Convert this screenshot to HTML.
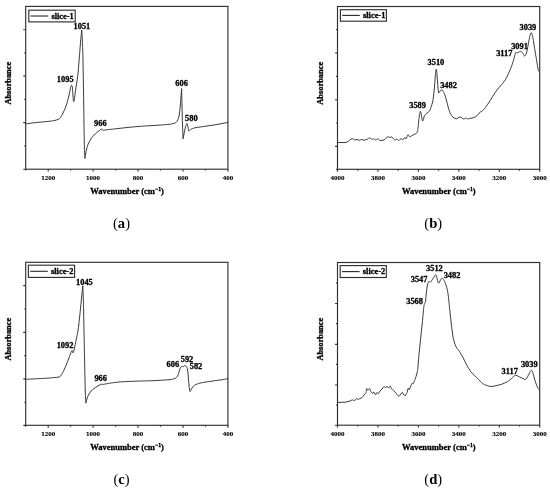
<!DOCTYPE html>
<html lang="en"><head><meta charset="utf-8"><title>FTIR absorbance spectra</title>
<style>html,body{margin:0;padding:0;background:#fff}body{width:550px;height:492px;overflow:hidden;font-family:"Liberation Serif",serif}</style>
</head><body>
<svg width="550" height="492" viewBox="0 0 550 492" style="display:block">
<rect width="550" height="492" fill="#fff"/>
<g id="plot-a" font-family="Liberation Serif, Times New Roman, serif" font-weight="bold" fill="#000" stroke="#000" stroke-width="0.3">
<rect x="25.7" y="6.4" width="202.2" height="162.8" fill="none" stroke="#303030" stroke-width="1.15"/>
<path d="M23.3,29.7H25.7M23.3,76.1H25.7M23.3,122.6H25.7M23.3,169.2H25.7M24.3,52.9H25.7M24.3,99.4H25.7M24.3,145.9H25.7M48.2,169.2V171.6M93.1,169.2V171.6M138.0,169.2V171.6M183.0,169.2V171.6M227.9,169.2V171.6M25.7,169.2V170.6M70.6,169.2V170.6M115.6,169.2V170.6M160.5,169.2V170.6M205.4,169.2V170.6" fill="none" stroke="#303030" stroke-width="1.15"/>
<g font-size="7" text-anchor="middle" stroke-width="0.12">
<text x="48.2" y="179.6">1200</text>
<text x="93.1" y="179.6">1000</text>
<text x="138.0" y="179.6">800</text>
<text x="183.0" y="179.6">600</text>
<text x="227.9" y="179.6">400</text>
</g>
<text x="127.0" y="194.2" font-size="8.5" text-anchor="middle">Wavenumber (cm<tspan font-size="5.6" dy="-3">−1</tspan><tspan dy="3">)</tspan></text>
<text transform="translate(11.3,83.2) rotate(-90)" font-size="8.4" text-anchor="middle">Absorbance</text>
<rect x="28.8" y="10.2" width="46.4" height="11.7" fill="#fff" stroke="#303030" stroke-width="1.15"/>
<path d="M30.6,16.0H48.2" stroke="#303030" stroke-width="1.15" fill="none"/>
<text x="51.4" y="18.6" font-size="8.4">slice-1</text>
<path d="M25.7,123.8C27.7,123.6 33.9,122.8 37.6,122.4C41.3,122.0 45.3,121.7 48.0,121.4C50.7,121.1 52.3,120.9 54.0,120.6C55.7,120.3 56.9,119.9 58.0,119.4C59.1,118.9 59.7,118.7 60.5,117.6C61.3,116.5 62.1,114.8 63.0,113.0C63.9,111.2 64.9,109.1 65.7,107.0C66.5,104.9 67.1,102.7 67.7,100.5C68.3,98.3 68.8,96.2 69.3,94.0C69.8,91.8 70.2,89.0 70.6,87.5C71.0,86.0 71.3,85.2 71.6,85.3C71.9,85.4 72.2,86.2 72.4,88.0C72.6,89.8 72.8,93.7 73.0,96.0C73.2,98.3 73.4,101.1 73.6,101.6C73.8,102.1 74.1,100.9 74.4,99.0C74.7,97.1 75.0,94.0 75.6,90.0C76.2,86.0 77.2,80.5 77.8,75.3C78.4,70.1 78.8,64.0 79.2,59.0C79.6,54.0 80.0,49.0 80.3,45.0C80.6,41.0 81.0,37.4 81.2,35.0C81.4,32.6 81.6,31.2 81.7,30.4M81.7,30.4C81.8,32.0 82.1,35.1 82.3,40.0C82.5,44.9 82.8,48.3 83.0,60.0C83.2,71.7 83.6,95.3 83.8,110.0C84.0,124.7 84.2,140.0 84.4,148.0C84.6,156.0 84.8,156.5 84.9,158.2M84.9,158.2C85.0,157.5 85.3,155.5 85.6,154.0C85.9,152.5 86.2,150.7 86.6,149.0C87.0,147.3 87.6,145.5 88.2,144.0C88.8,142.5 89.6,141.2 90.3,140.0C91.0,138.8 91.8,137.6 92.6,136.6C93.4,135.6 94.4,134.7 95.3,133.9C96.2,133.1 97.2,132.2 98.0,131.6C98.8,131.0 99.5,130.6 100.0,130.2C100.5,129.8 100.6,129.2 100.9,129.0C101.2,128.8 101.3,128.7 101.6,128.9C101.8,129.1 102.1,129.8 102.4,130.0C102.7,130.2 102.8,130.3 103.4,130.3C104.0,130.3 104.8,130.1 106.0,129.9C107.2,129.8 108.1,129.7 110.4,129.4C112.7,129.1 115.4,128.8 120.0,128.3C124.6,127.8 133.0,126.9 138.0,126.5C143.0,126.1 146.3,125.9 150.0,125.7C153.7,125.5 156.7,125.3 160.0,125.1C163.3,124.8 167.5,124.5 170.0,124.2C172.5,123.9 173.8,123.5 175.0,123.0C176.2,122.5 176.4,122.0 177.0,121.2C177.6,120.4 178.0,119.6 178.4,118.4C178.8,117.2 179.1,115.9 179.4,114.0C179.7,112.1 179.9,109.7 180.2,107.0C180.4,104.3 180.7,101.0 180.9,98.0C181.1,95.0 181.5,90.5 181.6,89.0M181.6,89.0C181.7,91.7 181.8,99.0 182.0,105.0C182.2,111.0 182.3,119.4 182.5,125.0C182.7,130.6 183.0,136.2 183.1,138.4M183.1,138.4C183.2,137.8 183.5,136.6 183.8,135.0C184.1,133.4 184.6,130.6 185.0,129.0C185.4,127.4 185.7,126.1 186.0,125.2C186.3,124.3 186.7,123.3 187.0,123.4C187.3,123.5 187.5,124.8 187.8,126.0C188.1,127.2 188.4,130.0 188.7,130.8C189.0,131.6 189.2,130.8 189.6,130.6C189.9,130.4 190.3,129.8 190.8,129.4C191.3,129.1 191.6,128.8 192.5,128.5C193.4,128.2 194.8,127.8 196.0,127.6C197.2,127.3 198.2,127.3 200.0,127.0C201.8,126.7 204.7,126.3 207.0,126.0C209.3,125.7 211.7,125.4 214.0,125.0C216.3,124.6 218.7,124.1 221.0,123.7C223.3,123.3 226.8,122.6 227.9,122.4" fill="none" stroke="#303030" stroke-width="0.95" stroke-linejoin="round" stroke-linecap="round"/>
<g font-size="8.4" text-anchor="middle">
<text x="81.9" y="29.0">1051</text>
<text x="65.2" y="82.3">1095</text>
<text x="100.3" y="125.6">966</text>
<text x="181.6" y="86.0">606</text>
<text x="191.3" y="121.0">580</text>
</g>
<text x="121.5" y="227.8" font-size="14.6" text-anchor="middle" font-weight="normal" stroke="none">(<tspan font-weight="bold">a</tspan>)</text>
</g>
<g id="plot-c" font-family="Liberation Serif, Times New Roman, serif" font-weight="bold" fill="#000" stroke="#000" stroke-width="0.3">
<rect x="25.7" y="262.3" width="202.2" height="163.0" fill="none" stroke="#303030" stroke-width="1.15"/>
<path d="M23.3,285.6H25.7M23.3,332.3H25.7M23.3,378.9H25.7M23.3,425.3H25.7M24.3,309H25.7M24.3,355.6H25.7M24.3,402.2H25.7M48.2,425.3V427.7M93.1,425.3V427.7M138.0,425.3V427.7M183.0,425.3V427.7M227.9,425.3V427.7M25.7,425.3V426.7M70.6,425.3V426.7M115.6,425.3V426.7M160.5,425.3V426.7M205.4,425.3V426.7" fill="none" stroke="#303030" stroke-width="1.15"/>
<g font-size="7" text-anchor="middle" stroke-width="0.12">
<text x="48.2" y="435.7">1200</text>
<text x="93.1" y="435.7">1000</text>
<text x="138.0" y="435.7">800</text>
<text x="183.0" y="435.7">600</text>
<text x="227.9" y="435.7">400</text>
</g>
<text x="127.0" y="450.3" font-size="8.5" text-anchor="middle">Wavenumber (cm<tspan font-size="5.6" dy="-3">−1</tspan><tspan dy="3">)</tspan></text>
<text transform="translate(11.3,339.2) rotate(-90)" font-size="8.4" text-anchor="middle">Absorbance</text>
<rect x="28.4" y="265.2" width="46.2" height="12.2" fill="#fff" stroke="#303030" stroke-width="1.15"/>
<path d="M30.2,271.3H47.8" stroke="#303030" stroke-width="1.15" fill="none"/>
<text x="51.0" y="273.9" font-size="8.4">slice-2</text>
<path d="M25.7,379.3C27.7,379.2 33.9,378.9 37.6,378.7C41.3,378.5 45.3,378.3 48.0,378.1C50.7,377.9 52.3,377.8 54.0,377.6C55.7,377.5 57.1,377.3 58.0,377.2C58.9,377.1 59.2,377.0 59.6,376.8C60.0,376.6 60.3,376.4 60.6,376.0C60.9,375.6 61.2,375.1 61.6,374.5C62.0,373.9 62.4,373.1 62.8,372.4C63.2,371.6 63.5,371.2 64.0,370.0C64.5,368.8 65.4,366.9 66.0,365.4C66.6,363.9 67.1,362.7 67.7,361.2C68.3,359.7 69.0,357.9 69.5,356.4C70.0,354.9 70.6,353.4 71.0,352.4C71.4,351.4 71.7,350.8 71.9,350.6C72.2,350.4 72.3,351.0 72.5,351.4C72.7,351.8 72.8,352.8 73.0,352.9C73.2,353.0 73.4,352.4 73.6,351.8C73.8,351.2 74.0,350.2 74.3,349.0C74.6,347.8 74.8,346.4 75.2,344.6C75.6,342.8 76.1,340.1 76.5,338.0C76.9,335.9 77.4,334.6 77.8,332.0C78.2,329.4 78.6,325.8 79.0,322.7C79.4,319.6 79.7,316.5 80.0,313.5C80.3,310.5 80.6,307.6 80.9,304.5C81.2,301.4 81.5,298.1 81.8,295.0C82.1,291.9 82.6,287.7 82.8,286.2M82.8,286.2C82.9,288.2 83.1,292.4 83.3,298.0C83.5,303.6 83.6,309.7 83.8,320.0C84.0,330.3 84.3,348.0 84.6,360.0C84.8,372.0 85.1,384.9 85.3,392.0C85.5,399.1 85.8,401.0 85.9,402.8M85.9,402.8C86.0,402.3 86.3,401.1 86.6,400.0C86.9,398.9 87.4,397.4 87.8,396.4C88.2,395.4 88.6,394.7 89.0,394.0C89.4,393.3 89.7,392.8 90.3,392.1C90.9,391.4 91.8,390.4 92.6,389.6C93.4,388.9 94.4,388.2 95.3,387.6C96.2,387.0 97.2,386.3 98.0,385.8C98.8,385.3 99.6,384.9 100.3,384.6C101.0,384.3 101.5,384.2 102.0,384.2C102.5,384.2 102.8,384.4 103.5,384.4C104.2,384.3 104.8,384.1 106.0,383.9C107.2,383.7 108.0,383.4 110.4,383.1C112.8,382.8 115.8,382.2 120.4,381.9C125.0,381.6 133.1,381.3 138.0,381.1C142.9,380.9 146.3,380.9 150.0,380.8C153.7,380.7 156.7,380.5 160.0,380.3C163.3,380.1 167.7,379.9 170.0,379.6C172.3,379.4 173.0,379.1 174.0,378.8C175.0,378.5 175.4,378.2 176.0,377.8C176.6,377.4 177.2,376.9 177.6,376.2C178.0,375.5 178.3,374.5 178.6,373.5C178.9,372.5 179.3,371.0 179.6,370.0C179.9,369.0 180.3,368.0 180.6,367.4C180.9,366.8 181.3,366.5 181.6,366.4C181.9,366.2 182.3,366.4 182.6,366.5C182.9,366.6 183.1,366.8 183.4,366.7C183.7,366.6 184.2,365.8 184.6,365.7C185.0,365.6 185.3,365.7 185.6,365.9C185.9,366.1 186.2,366.4 186.5,366.8C186.8,367.2 187.1,367.7 187.3,368.6C187.5,369.5 187.7,370.4 187.9,372.0C188.1,373.6 188.2,375.8 188.4,378.0C188.6,380.2 188.8,383.0 189.0,385.0C189.2,387.0 189.4,388.9 189.6,390.0C189.8,391.1 189.9,391.6 190.1,391.7C190.3,391.8 190.5,391.0 190.8,390.4C191.1,389.8 191.6,388.7 192.0,388.0C192.4,387.3 193.0,386.7 193.5,386.2C194.0,385.7 194.3,385.4 195.0,385.0C195.7,384.6 196.7,384.2 197.5,383.9C198.3,383.6 198.8,383.4 200.0,383.1C201.2,382.8 203.3,382.5 205.0,382.2C206.7,381.9 207.5,381.8 210.0,381.4C212.5,381.0 217.0,380.4 220.0,380.0C223.0,379.6 226.6,378.9 227.9,378.7" fill="none" stroke="#303030" stroke-width="0.95" stroke-linejoin="round" stroke-linecap="round"/>
<g font-size="8.4" text-anchor="middle">
<text x="84.4" y="284.6">1045</text>
<text x="65.0" y="347.8">1092</text>
<text x="100.7" y="381.3">966</text>
<text x="172.8" y="367.4">606</text>
<text x="187.0" y="361.6">592</text>
<text x="196.0" y="369.0">582</text>
</g>
<text x="121.5" y="484.2" font-size="14.6" text-anchor="middle" font-weight="normal" stroke="none">(<tspan font-weight="bold">c</tspan>)</text>
</g>
<g id="plot-b" font-family="Liberation Serif, Times New Roman, serif" font-weight="bold" fill="#000" stroke="#000" stroke-width="0.3">
<rect x="337.5" y="6.5" width="202.2" height="162.8" fill="none" stroke="#303030" stroke-width="1.15"/>
<path d="M335.1,53.0H337.5M335.1,99.7H337.5M335.1,146.4H337.5M336.1,29.6H337.5M336.1,76.4H337.5M336.1,123.0H337.5M336.1,169.3H337.5M337.5,169.3V171.7M377.9,169.3V171.7M418.4,169.3V171.7M458.8,169.3V171.7M499.3,169.3V171.7M539.7,169.3V171.7M357.7,169.3V170.7M398.2,169.3V170.7M438.6,169.3V170.7M479.0,169.3V170.7M519.5,169.3V170.7" fill="none" stroke="#303030" stroke-width="1.15"/>
<g font-size="7" text-anchor="middle" stroke-width="0.12">
<text x="337.5" y="179.7">4000</text>
<text x="377.9" y="179.7">3800</text>
<text x="418.4" y="179.7">3600</text>
<text x="458.8" y="179.7">3400</text>
<text x="499.3" y="179.7">3200</text>
<text x="539.7" y="179.7">3000</text>
</g>
<text x="438.8" y="194.3" font-size="8.5" text-anchor="middle">Wavenumber (cm<tspan font-size="5.6" dy="-3">−1</tspan><tspan dy="3">)</tspan></text>
<text transform="translate(323.1,83.3) rotate(-90)" font-size="8.4" text-anchor="middle">Absorbance</text>
<rect x="340.4" y="9.7" width="46.0" height="11.5" fill="#fff" stroke="#303030" stroke-width="1.15"/>
<path d="M342.2,15.4H359.8" stroke="#303030" stroke-width="1.15" fill="none"/>
<text x="363.0" y="18.1" font-size="8.4">slice-1</text>
<path d="M337.5,142.4C338.1,142.4 339.8,142.5 341.0,142.5C342.2,142.5 344.0,142.7 345.0,142.6C346.0,142.5 346.2,142.4 347.0,142.0C347.8,141.6 348.7,140.9 349.5,140.3C350.3,139.8 351.3,138.9 352.0,138.7C352.7,138.5 353.0,139.0 353.5,139.2C354.0,139.4 354.4,140.1 355.0,140.1C355.6,140.1 356.3,139.3 357.0,139.4C357.7,139.5 358.4,140.3 359.0,140.4C359.6,140.5 360.0,139.9 360.5,139.8C361.0,139.7 361.4,139.5 362.0,139.6C362.6,139.7 363.4,140.3 364.0,140.3C364.6,140.3 365.0,140.0 365.5,139.8C366.0,139.7 366.5,139.6 367.0,139.4C367.5,139.2 368.1,138.7 368.6,138.4C369.1,138.1 369.6,137.6 370.0,137.7C370.4,137.8 370.7,138.5 371.0,138.8C371.3,139.1 371.7,139.6 372.0,139.6C372.3,139.6 372.7,139.2 373.0,139.0C373.3,138.8 373.7,138.5 374.0,138.6C374.3,138.7 374.7,139.2 375.0,139.5C375.3,139.8 375.7,140.2 376.0,140.2C376.3,140.1 376.7,139.5 377.0,139.2C377.3,138.9 377.7,138.5 378.0,138.6C378.3,138.7 378.7,139.5 379.0,139.8C379.3,140.1 379.5,140.5 380.0,140.6C380.5,140.7 381.3,140.4 382.0,140.3C382.7,140.2 383.3,140.3 384.0,140.0C384.7,139.7 385.3,138.8 386.0,138.2C386.7,137.6 387.5,136.8 388.0,136.7C388.5,136.5 388.7,137.2 389.0,137.3C389.3,137.4 389.7,137.5 390.0,137.4C390.3,137.3 390.7,137.1 391.0,137.0C391.3,136.9 391.6,136.8 392.0,137.1C392.4,137.4 393.0,138.3 393.5,138.8C394.0,139.3 394.6,139.9 395.0,140.0C395.4,140.1 395.7,139.5 396.0,139.3C396.3,139.1 396.6,138.8 397.0,139.0C397.4,139.2 398.1,140.5 398.6,140.6C399.1,140.7 399.6,139.7 400.0,139.4C400.4,139.1 400.7,138.6 401.0,138.6C401.3,138.6 401.7,139.0 402.0,139.2C402.3,139.4 402.7,139.7 403.0,139.6C403.3,139.5 403.7,138.8 404.0,138.4C404.3,138.0 404.7,137.3 405.0,137.4C405.3,137.5 405.7,139.1 406.0,139.0C406.3,138.9 406.7,137.5 407.0,136.8C407.3,136.1 407.7,134.7 408.0,134.6C408.3,134.5 408.7,135.6 409.0,136.0C409.3,136.4 409.7,137.0 410.0,137.0C410.3,137.0 410.7,136.4 411.0,136.2C411.3,136.0 411.5,135.9 412.0,135.6C412.5,135.3 413.3,134.9 414.0,134.6C414.7,134.3 415.5,133.9 416.0,133.6C416.5,133.3 416.7,133.3 417.0,132.6C417.3,131.9 417.6,131.1 417.8,129.5C418.1,127.9 418.2,125.2 418.5,123.0C418.8,120.8 419.1,117.8 419.3,116.0C419.6,114.2 419.8,113.0 420.0,112.2C420.2,111.4 420.3,111.3 420.5,111.4C420.7,111.5 420.8,112.0 421.0,112.8C421.2,113.6 421.4,115.1 421.6,116.3C421.8,117.5 422.0,119.0 422.2,119.8C422.4,120.6 422.5,121.0 422.7,121.0C422.9,121.0 423.1,120.3 423.3,119.6C423.5,118.9 423.8,117.7 424.0,117.0C424.2,116.3 424.5,115.6 424.8,115.2C425.1,114.8 425.3,114.7 425.6,114.4C425.9,114.1 426.4,113.7 426.8,113.4C427.2,113.1 427.6,112.9 428.0,112.6C428.4,112.3 428.7,111.9 429.0,111.5C429.3,111.1 429.6,110.8 430.0,110.0C430.4,109.2 430.8,108.1 431.2,106.8C431.6,105.5 432.2,103.6 432.6,102.0C433.0,100.4 433.1,99.0 433.4,97.0C433.7,95.0 433.9,92.8 434.2,90.0C434.5,87.2 434.8,82.8 435.0,80.0C435.2,77.2 435.4,75.3 435.6,73.5C435.8,71.7 436.0,69.4 436.2,69.2C436.4,69.0 436.6,70.7 436.8,72.5C437.0,74.3 437.2,77.4 437.4,80.0C437.6,82.6 437.8,85.8 438.0,88.0C438.2,90.2 438.4,92.2 438.7,92.9C438.9,93.6 439.2,92.4 439.5,92.0C439.8,91.6 440.1,90.9 440.5,90.6C440.9,90.3 441.5,89.8 442.0,90.0C442.5,90.2 442.9,90.6 443.5,91.6C444.1,92.6 444.7,94.4 445.3,96.2C445.9,98.0 446.5,100.5 447.0,102.5C447.5,104.5 448.0,106.5 448.5,108.2C449.0,109.9 449.4,111.3 450.0,112.6C450.6,113.9 451.1,114.9 451.8,115.8C452.5,116.7 453.3,117.4 454.0,117.9C454.7,118.4 455.5,118.7 456.2,118.7C456.9,118.7 457.4,118.3 458.0,118.0C458.6,117.7 459.4,116.9 460.1,116.9C460.8,116.9 461.4,117.6 462.0,118.0C462.6,118.4 463.3,119.0 463.8,119.1C464.3,119.2 464.6,118.6 465.0,118.4C465.4,118.2 465.7,118.0 466.0,118.0C466.3,118.0 466.6,118.4 467.0,118.6C467.4,118.8 467.5,119.0 468.2,118.9C468.9,118.8 470.2,118.4 471.0,118.2C471.8,118.0 472.1,118.1 473.0,117.8C473.9,117.5 475.3,117.0 476.1,116.5C476.9,116.0 477.1,115.6 477.6,115.0C478.1,114.4 478.6,113.6 479.1,113.1C479.6,112.6 480.1,112.3 480.6,111.9C481.1,111.5 481.7,111.3 482.2,110.9C482.7,110.5 483.2,110.0 483.7,109.5C484.2,109.0 484.5,108.7 485.2,107.8C485.9,106.9 486.8,105.5 487.7,104.2C488.6,103.0 489.4,101.6 490.3,100.3C491.2,99.0 492.0,97.5 492.8,96.2C493.6,94.9 494.7,93.2 495.4,92.2C496.1,91.2 496.5,90.7 497.0,90.0C497.5,89.3 497.9,88.8 498.5,88.1C499.1,87.4 499.8,86.5 500.5,85.8C501.2,85.0 501.9,84.3 502.5,83.6C503.1,82.9 503.5,82.3 504.0,81.6C504.5,80.9 505.1,80.1 505.6,79.3C506.1,78.5 506.6,77.5 507.1,76.5C507.6,75.5 508.1,74.5 508.6,73.3C509.1,72.1 509.7,70.9 510.2,69.6C510.7,68.3 511.3,66.8 511.7,65.7C512.1,64.6 512.4,63.8 512.7,62.8C513.0,61.8 513.4,60.8 513.7,59.6C514.0,58.4 514.4,56.8 514.7,55.6C515.0,54.4 515.4,53.1 515.7,52.6C516.0,52.1 516.4,52.5 516.7,52.5C517.1,52.5 517.4,53.0 517.8,52.9C518.2,52.8 518.7,52.2 519.1,52.0C519.5,51.8 520.0,51.5 520.4,51.5C520.8,51.5 521.1,51.6 521.4,51.8C521.7,52.0 522.0,52.1 522.4,52.6C522.8,53.1 523.1,54.0 523.5,54.6C523.9,55.2 524.2,55.9 524.6,56.0C525.0,56.1 525.3,55.7 525.6,55.2C525.9,54.7 526.2,53.9 526.5,53.0C526.8,52.1 527.0,51.1 527.2,50.0C527.4,48.9 527.6,47.8 527.9,46.4C528.1,45.0 528.4,43.3 528.7,41.8C529.0,40.3 529.3,38.5 529.6,37.3C529.9,36.1 530.1,35.1 530.3,34.4C530.5,33.6 530.8,32.9 531.0,32.8C531.2,32.7 531.5,33.0 531.8,33.6C532.1,34.2 532.3,34.9 532.6,36.3C532.9,37.7 533.3,40.0 533.6,42.0C533.9,44.0 534.3,46.4 534.6,48.5C534.9,50.6 535.2,52.6 535.6,54.6C536.0,56.6 536.4,58.9 536.7,60.7C537.0,62.5 537.2,64.0 537.4,65.5C537.6,67.0 537.9,68.5 538.1,69.4C538.3,70.4 538.5,70.8 538.8,71.2C539.1,71.6 539.6,71.9 539.7,72.0" fill="none" stroke="#303030" stroke-width="0.95" stroke-linejoin="round" stroke-linecap="round"/>
<g font-size="8.4" text-anchor="middle">
<text x="417.6" y="107.6">3589</text>
<text x="435.9" y="64.8">3510</text>
<text x="448.5" y="88.4">3482</text>
<text x="504.3" y="56.3">3117</text>
<text x="519.5" y="49.1">3091</text>
<text x="527.9" y="30.1">3039</text>
</g>
<text x="433.3" y="227.8" font-size="14.6" text-anchor="middle" font-weight="normal" stroke="none">(<tspan font-weight="bold">b</tspan>)</text>
</g>
<g id="plot-d" font-family="Liberation Serif, Times New Roman, serif" font-weight="bold" fill="#000" stroke="#000" stroke-width="0.3">
<rect x="337.5" y="262.5" width="202.2" height="162.7" fill="none" stroke="#303030" stroke-width="1.15"/>
<path d="M335.1,303.5H337.5M335.1,344.3H337.5M335.1,385.0H337.5M335.1,425.2H337.5M336.1,282.9H337.5M336.1,323.6H337.5M336.1,364.4H337.5M336.1,405.0H337.5M337.5,425.2V427.6M377.9,425.2V427.6M418.4,425.2V427.6M458.8,425.2V427.6M499.3,425.2V427.6M539.7,425.2V427.6M357.7,425.2V426.6M398.2,425.2V426.6M438.6,425.2V426.6M479.0,425.2V426.6M519.5,425.2V426.6" fill="none" stroke="#303030" stroke-width="1.15"/>
<g font-size="7" text-anchor="middle" stroke-width="0.12">
<text x="337.5" y="435.6">4000</text>
<text x="377.9" y="435.6">3800</text>
<text x="418.4" y="435.6">3600</text>
<text x="458.8" y="435.6">3400</text>
<text x="499.3" y="435.6">3200</text>
<text x="539.7" y="435.6">3000</text>
</g>
<text x="438.8" y="450.2" font-size="8.5" text-anchor="middle">Wavenumber (cm<tspan font-size="5.6" dy="-3">−1</tspan><tspan dy="3">)</tspan></text>
<text transform="translate(323.1,339.2) rotate(-90)" font-size="8.4" text-anchor="middle">Absorbance</text>
<rect x="340.2" y="265.6" width="46.1" height="11.9" fill="#fff" stroke="#303030" stroke-width="1.15"/>
<path d="M342.0,271.6H359.6" stroke="#303030" stroke-width="1.15" fill="none"/>
<text x="362.8" y="274.2" font-size="8.4">slice-2</text>
<path d="M337.5,402.4C338.1,402.4 339.8,402.3 341.0,402.3C342.2,402.3 343.8,402.3 345.0,402.2C346.2,402.1 347.2,401.8 348.0,401.6C348.8,401.4 349.3,401.3 350.0,401.0C350.7,400.7 351.4,400.1 352.0,400.0C352.6,399.9 353.0,400.1 353.5,400.2C354.0,400.3 354.5,400.7 355.0,400.4C355.5,400.1 356.0,398.6 356.4,398.4C356.8,398.2 356.9,398.8 357.2,399.0C357.5,399.2 357.7,399.6 358.0,399.6C358.3,399.6 358.7,399.2 359.0,399.0C359.3,398.8 359.5,398.8 360.0,398.6C360.5,398.4 361.5,398.0 362.0,397.6C362.5,397.2 362.7,396.8 363.0,396.4C363.3,396.0 363.7,395.4 364.0,395.0C364.3,394.6 364.7,394.2 365.0,393.8C365.3,393.4 365.7,393.3 366.0,392.4C366.3,391.5 366.4,389.1 366.6,388.6C366.8,388.1 367.1,389.3 367.3,389.6C367.5,389.9 367.8,390.5 368.0,390.4C368.2,390.3 368.5,389.5 368.8,389.2C369.1,388.9 369.4,388.4 369.6,388.6C369.9,388.8 370.1,389.7 370.3,390.2C370.5,390.7 370.8,391.2 371.0,391.6C371.2,392.0 371.5,392.5 371.8,392.8C372.1,393.1 372.4,393.6 372.6,393.6C372.9,393.6 373.1,392.9 373.3,392.6C373.5,392.3 373.8,391.8 374.0,392.0C374.2,392.2 374.5,393.1 374.8,393.6C375.1,394.1 375.4,395.0 375.6,395.0C375.9,395.0 376.1,393.8 376.3,393.4C376.5,393.0 376.8,392.4 377.0,392.4C377.2,392.4 377.5,393.0 377.8,393.2C378.1,393.4 378.4,393.8 378.6,393.6C378.9,393.4 379.1,392.6 379.3,392.2C379.5,391.8 379.7,391.4 380.0,391.0C380.3,390.6 380.7,390.3 381.0,390.0C381.3,389.7 381.7,389.4 382.0,389.0C382.3,388.6 382.7,388.0 383.0,387.6C383.3,387.2 383.7,386.7 384.0,386.6C384.3,386.5 384.7,387.0 385.0,387.2C385.3,387.4 385.8,387.7 386.0,387.6C386.2,387.5 386.3,387.0 386.5,386.8C386.7,386.6 386.8,386.3 387.0,386.4C387.2,386.5 387.5,387.1 387.8,387.4C388.1,387.7 388.3,388.1 388.6,388.0C388.9,387.9 389.2,386.9 389.5,386.6C389.8,386.3 390.1,385.8 390.4,386.0C390.6,386.2 390.8,387.1 391.0,387.6C391.2,388.1 391.4,388.7 391.6,389.0C391.8,389.3 392.1,389.4 392.3,389.6C392.5,389.8 392.7,389.8 393.0,390.0C393.3,390.2 393.7,390.7 394.0,391.0C394.3,391.3 394.7,391.6 395.0,392.0C395.3,392.4 395.7,392.8 396.0,393.2C396.3,393.6 396.7,394.0 397.0,394.4C397.3,394.8 397.7,395.3 398.0,395.6C398.3,395.9 398.7,396.5 399.0,396.4C399.3,396.3 399.7,395.4 400.0,395.0C400.3,394.6 400.7,394.3 401.0,394.0C401.3,393.7 401.5,393.3 401.7,393.0C401.9,392.7 402.1,392.3 402.4,392.4C402.6,392.5 402.9,393.4 403.2,393.8C403.5,394.2 403.8,394.7 404.0,395.0C404.2,395.3 404.5,395.4 404.7,395.5C404.9,395.6 405.1,395.9 405.4,395.6C405.6,395.4 405.9,394.5 406.2,394.0C406.5,393.5 406.8,393.1 407.0,392.4C407.2,391.7 407.5,390.7 407.7,390.0C407.9,389.3 408.2,388.2 408.4,388.0C408.6,387.8 408.7,388.7 408.9,389.0C409.1,389.3 409.2,389.9 409.4,389.6C409.6,389.3 409.9,388.1 410.2,387.4C410.5,386.7 410.8,386.1 411.0,385.6C411.2,385.1 411.5,384.6 411.7,384.2C411.9,383.8 412.2,383.1 412.4,383.0C412.6,382.9 412.7,383.4 412.9,383.5C413.1,383.6 413.2,384.0 413.4,383.6C413.6,383.2 413.9,382.1 414.2,381.4C414.5,380.7 414.7,380.3 415.0,379.5C415.3,378.7 415.7,377.7 416.0,376.6C416.3,375.5 416.7,374.2 417.0,373.0C417.3,371.8 417.5,371.3 417.7,369.5C417.9,367.7 418.1,364.8 418.3,362.0C418.6,359.2 418.9,355.7 419.2,352.5C419.5,349.3 419.9,346.2 420.2,343.0C420.5,339.8 420.8,336.3 421.2,333.0C421.6,329.7 422.0,326.3 422.3,323.0C422.6,319.7 422.9,315.8 423.2,313.0C423.5,310.2 423.7,308.0 423.9,306.5C424.1,305.0 424.3,304.4 424.5,303.8C424.7,303.2 424.9,303.1 425.1,302.6C425.3,302.1 425.5,301.8 425.6,300.8C425.8,299.8 425.9,298.0 426.0,296.5C426.1,295.0 426.2,293.6 426.4,292.0C426.6,290.4 426.9,288.4 427.1,287.0C427.3,285.6 427.6,284.4 427.8,283.6C428.0,282.8 428.2,282.4 428.4,282.0C428.6,281.6 428.9,281.4 429.1,281.4C429.3,281.4 429.5,281.9 429.7,282.0C429.9,282.1 430.1,282.3 430.3,282.2C430.5,282.1 430.7,282.0 431.0,281.6C431.3,281.2 431.8,280.4 432.2,279.8C432.6,279.2 433.1,278.5 433.5,277.9C433.9,277.3 434.3,276.5 434.7,276.0C435.1,275.5 435.5,274.8 435.8,274.8C436.1,274.8 436.3,275.5 436.5,276.2C436.7,276.9 437.0,278.1 437.2,279.0C437.4,279.9 437.7,281.1 437.9,281.8C438.1,282.5 438.3,283.1 438.5,283.2C438.7,283.3 438.9,282.8 439.2,282.4C439.4,282.0 439.7,281.5 440.0,281.0C440.3,280.5 440.5,279.8 440.8,279.4C441.1,278.9 441.3,278.4 441.6,278.3C441.9,278.2 442.3,278.3 442.6,278.5C442.9,278.7 443.3,279.1 443.6,279.6C443.9,280.1 444.3,280.6 444.6,281.3C444.9,282.0 445.2,282.8 445.6,283.8C446.0,284.8 446.4,286.1 446.7,287.4C447.0,288.7 447.4,289.9 447.7,291.6C448.0,293.3 448.2,295.2 448.5,297.5C448.8,299.8 449.0,302.8 449.3,305.5C449.6,308.2 449.9,311.1 450.2,314.0C450.5,316.9 450.9,320.2 451.2,323.0C451.5,325.8 451.9,328.7 452.2,331.0C452.5,333.3 452.7,335.0 453.0,336.6C453.3,338.2 453.5,339.5 453.9,340.8C454.2,342.1 454.7,343.3 455.1,344.4C455.5,345.5 455.9,346.5 456.4,347.3C456.8,348.1 457.3,348.7 457.8,349.3C458.3,349.9 458.7,350.4 459.3,351.2C459.9,352.0 460.6,353.3 461.2,354.4C461.8,355.5 462.5,356.7 463.2,357.9C463.9,359.1 464.5,360.5 465.1,361.8C465.7,363.1 466.4,364.4 467.0,365.6C467.6,366.8 468.4,367.9 469.0,368.9C469.6,369.9 470.3,371.0 470.9,371.8C471.5,372.6 472.2,373.2 472.8,373.9C473.4,374.5 474.1,375.1 474.7,375.7C475.3,376.3 476.0,377.0 476.6,377.6C477.2,378.2 478.0,378.9 478.6,379.5C479.2,380.1 479.9,380.9 480.5,381.5C481.1,382.1 481.9,382.9 482.5,383.4C483.1,383.9 483.8,384.2 484.4,384.5C485.0,384.8 485.6,385.0 486.3,385.3C487.0,385.6 487.9,385.9 488.7,386.1C489.5,386.3 490.4,386.5 491.2,386.5C492.0,386.5 492.8,386.4 493.6,386.3C494.4,386.2 495.1,385.9 496.0,385.7C496.9,385.5 497.9,385.2 498.9,385.0C499.9,384.8 500.8,384.5 501.8,384.2C502.8,383.9 503.7,383.4 504.7,383.0C505.7,382.6 506.8,381.9 507.6,381.5C508.4,381.1 508.9,380.8 509.5,380.3C510.1,379.9 510.8,379.3 511.4,378.8C512.0,378.3 512.4,377.7 512.9,377.2C513.4,376.7 513.9,376.2 514.3,375.9C514.7,375.6 514.8,375.5 515.1,375.4C515.4,375.3 515.6,375.2 515.9,375.3C516.2,375.4 516.6,375.5 517.0,375.7C517.4,375.9 517.8,376.1 518.2,376.3C518.6,376.5 519.1,376.8 519.6,377.0C520.1,377.2 520.5,377.3 521.1,377.6C521.7,377.9 522.4,378.3 523.0,378.6C523.6,378.9 524.4,379.4 524.9,379.5C525.4,379.6 525.6,379.4 525.9,379.2C526.2,378.9 526.6,378.5 526.9,378.0C527.2,377.5 527.5,376.8 527.8,376.2C528.1,375.6 528.5,374.9 528.8,374.3C529.1,373.7 529.4,373.0 529.7,372.4C530.0,371.8 530.4,371.1 530.7,370.8C531.0,370.5 531.1,370.3 531.3,370.3C531.5,370.3 531.7,370.4 531.9,370.6C532.1,370.8 532.3,371.2 532.5,371.7C532.7,372.2 532.9,372.6 533.1,373.4C533.3,374.1 533.5,375.2 533.8,376.2C534.0,377.2 534.3,378.2 534.6,379.2C534.9,380.2 535.2,381.2 535.5,382.2C535.8,383.1 536.2,384.1 536.5,384.9C536.8,385.7 537.0,386.2 537.3,386.8C537.6,387.4 537.8,388.0 538.1,388.4C538.4,388.8 538.6,389.1 538.9,389.4C539.2,389.6 539.6,389.8 539.7,389.9" fill="none" stroke="#303030" stroke-width="0.95" stroke-linejoin="round" stroke-linecap="round"/>
<g font-size="8.4" text-anchor="middle">
<text x="414.6" y="303.5">3568</text>
<text x="419.1" y="281.7">3547</text>
<text x="434.4" y="270.8">3512</text>
<text x="452.0" y="278.2">3482</text>
<text x="509.7" y="374.2">3117</text>
<text x="529.3" y="366.8">3039</text>
</g>
<text x="433.3" y="484.2" font-size="14.6" text-anchor="middle" font-weight="normal" stroke="none">(<tspan font-weight="bold">d</tspan>)</text>
</g>
</svg>
</body></html>
